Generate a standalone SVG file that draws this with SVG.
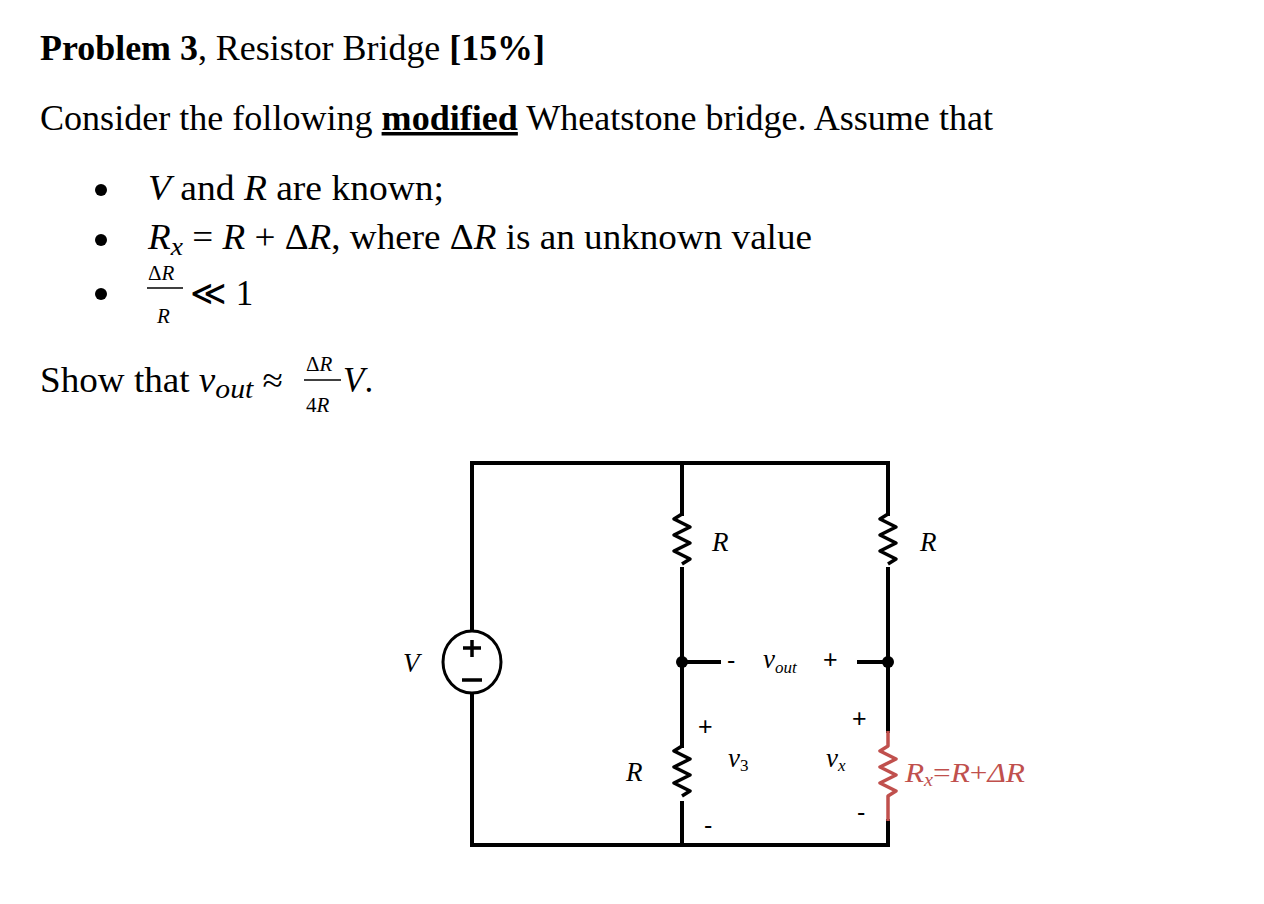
<svg xmlns="http://www.w3.org/2000/svg" width="1264" height="904" viewBox="0 0 1264 904">
<style>
text{font-family:"Liberation Serif",serif;fill:#000}
.t{font-size:35px}
.m{font-style:italic}
.w{stroke:#000;stroke-width:4;fill:none;stroke-linecap:square}
.z{stroke:#000;stroke-width:3.5;fill:none;stroke-linejoin:round}
.red{stroke:#c0504d}
.lab{font-size:27px;font-style:italic}
.pm{font-family:"Liberation Sans",sans-serif;font-size:25px}
</style>
<rect width="1264" height="904" fill="#fff"/>
<g id="text">
<text x="40" y="60" class="t" textLength="505" lengthAdjust="spacingAndGlyphs"><tspan font-weight="bold">Problem 3</tspan>, Resistor Bridge <tspan font-weight="bold">[15%]</tspan></text>
<text x="40" y="130" class="t" textLength="953" lengthAdjust="spacingAndGlyphs">Consider the following <tspan font-weight="bold" text-decoration="underline">modified</tspan> Wheatstone bridge. Assume that</text>
<circle cx="101" cy="190" r="6"/><circle cx="101" cy="240" r="6"/><circle cx="101" cy="294" r="6"/>
<text x="148" y="200" class="t" textLength="296" lengthAdjust="spacingAndGlyphs"><tspan class="m">V</tspan> and <tspan class="m">R</tspan>  are known;</text>
<text x="148" y="249" class="t" textLength="664" lengthAdjust="spacingAndGlyphs"><tspan class="m">R</tspan><tspan class="m" font-size="26" dy="6">x</tspan><tspan dy="-6"> = </tspan><tspan class="m">R</tspan> + Δ<tspan class="m">R</tspan>, where Δ<tspan class="m">R</tspan> is an unknown value</text>
<text x="148" y="280" font-size="21">Δ<tspan class="m">R</tspan></text>
<line x1="147" y1="288" x2="183" y2="288" stroke="#000" stroke-width="1.5"/>
<text x="157" y="323" font-size="21" class="m">R</text>
<text x="190" y="305" class="t">≪ 1</text>
<text x="40" y="392" class="t" textLength="243" lengthAdjust="spacingAndGlyphs">Show that <tspan class="m">v</tspan><tspan class="m" font-size="28" dy="6">out</tspan><tspan dy="-6"> ≈</tspan></text>
<text x="306" y="371" font-size="21">Δ<tspan class="m">R</tspan></text>
<line x1="304" y1="380" x2="341" y2="380" stroke="#000" stroke-width="1.5"/>
<text x="306" y="412" font-size="21">4<tspan class="m">R</tspan></text>
<text x="343" y="392" class="t"><tspan class="m">V</tspan>.</text>
</g>
<g id="connectors">
<path class="w" d="M472 463H888M472 463V631M472 693V845H888M682 463V514M682 569V746M682 803V845M888 463V514M888 569V731M888 821V845M682 662H719M859 662H888"/>
</g>
<g id="source">
<ellipse cx="472" cy="662" rx="29" ry="31" fill="#fff" stroke="#000" stroke-width="3"/>
<path d="M472 640v17M463 648h18M462 680h20" stroke="#000" stroke-width="3.5"/>
<text x="403" y="672" class="lab">V</text>
</g>
<g id="R1"><path class="z" d="M682 514l-8 5 16 8-16 8 16 8-16 8 16 8-8 5"/><text x="712" y="551" class="lab">R</text></g>
<g id="R2"><path class="z" d="M888 514l-8 5 16 8-16 8 16 8-16 8 16 8-8 5"/><text x="920" y="551" class="lab">R</text></g>
<g id="R3"><path class="z" d="M682 746l-8 5 16 8-16 8 16 8-16 8 16 8-8 5"/><text x="626" y="781" class="lab">R</text></g>
<g id="Rx"><path class="z red" d="M888 731V746l-8 5 16 8-16 8 16 8-16 8 16 8-8 5V821"/>
<text x="905" y="782" font-size="28" font-style="italic" style="fill:#c0504d" textLength="120" lengthAdjust="spacingAndGlyphs">R<tspan font-size="18" dy="4">x</tspan><tspan dy="-4" font-style="normal">=</tspan>R<tspan font-style="normal">+</tspan>ΔR</text></g>
<g id="nodes"><circle cx="682" cy="662" r="6"/><circle cx="888" cy="662" r="6"/></g>
<g id="labels">
<text x="727" y="669" class="pm">-</text>
<text x="763" y="668" class="lab" font-size="24">v<tspan font-size="17" dy="5">out</tspan></text>
<text x="823" y="668" class="pm">+</text>
<text x="698" y="735" class="pm">+</text>
<text x="728" y="767" class="lab" font-size="24">v<tspan font-size="17" dy="4" font-style="normal">3</tspan></text>
<text x="704" y="834" class="pm">-</text>
<text x="852" y="727" class="pm">+</text>
<text x="826" y="767" class="lab" font-size="24">v<tspan font-size="17" dy="4">x</tspan></text>
<text x="857" y="821" class="pm">-</text>
</g>
</svg>
